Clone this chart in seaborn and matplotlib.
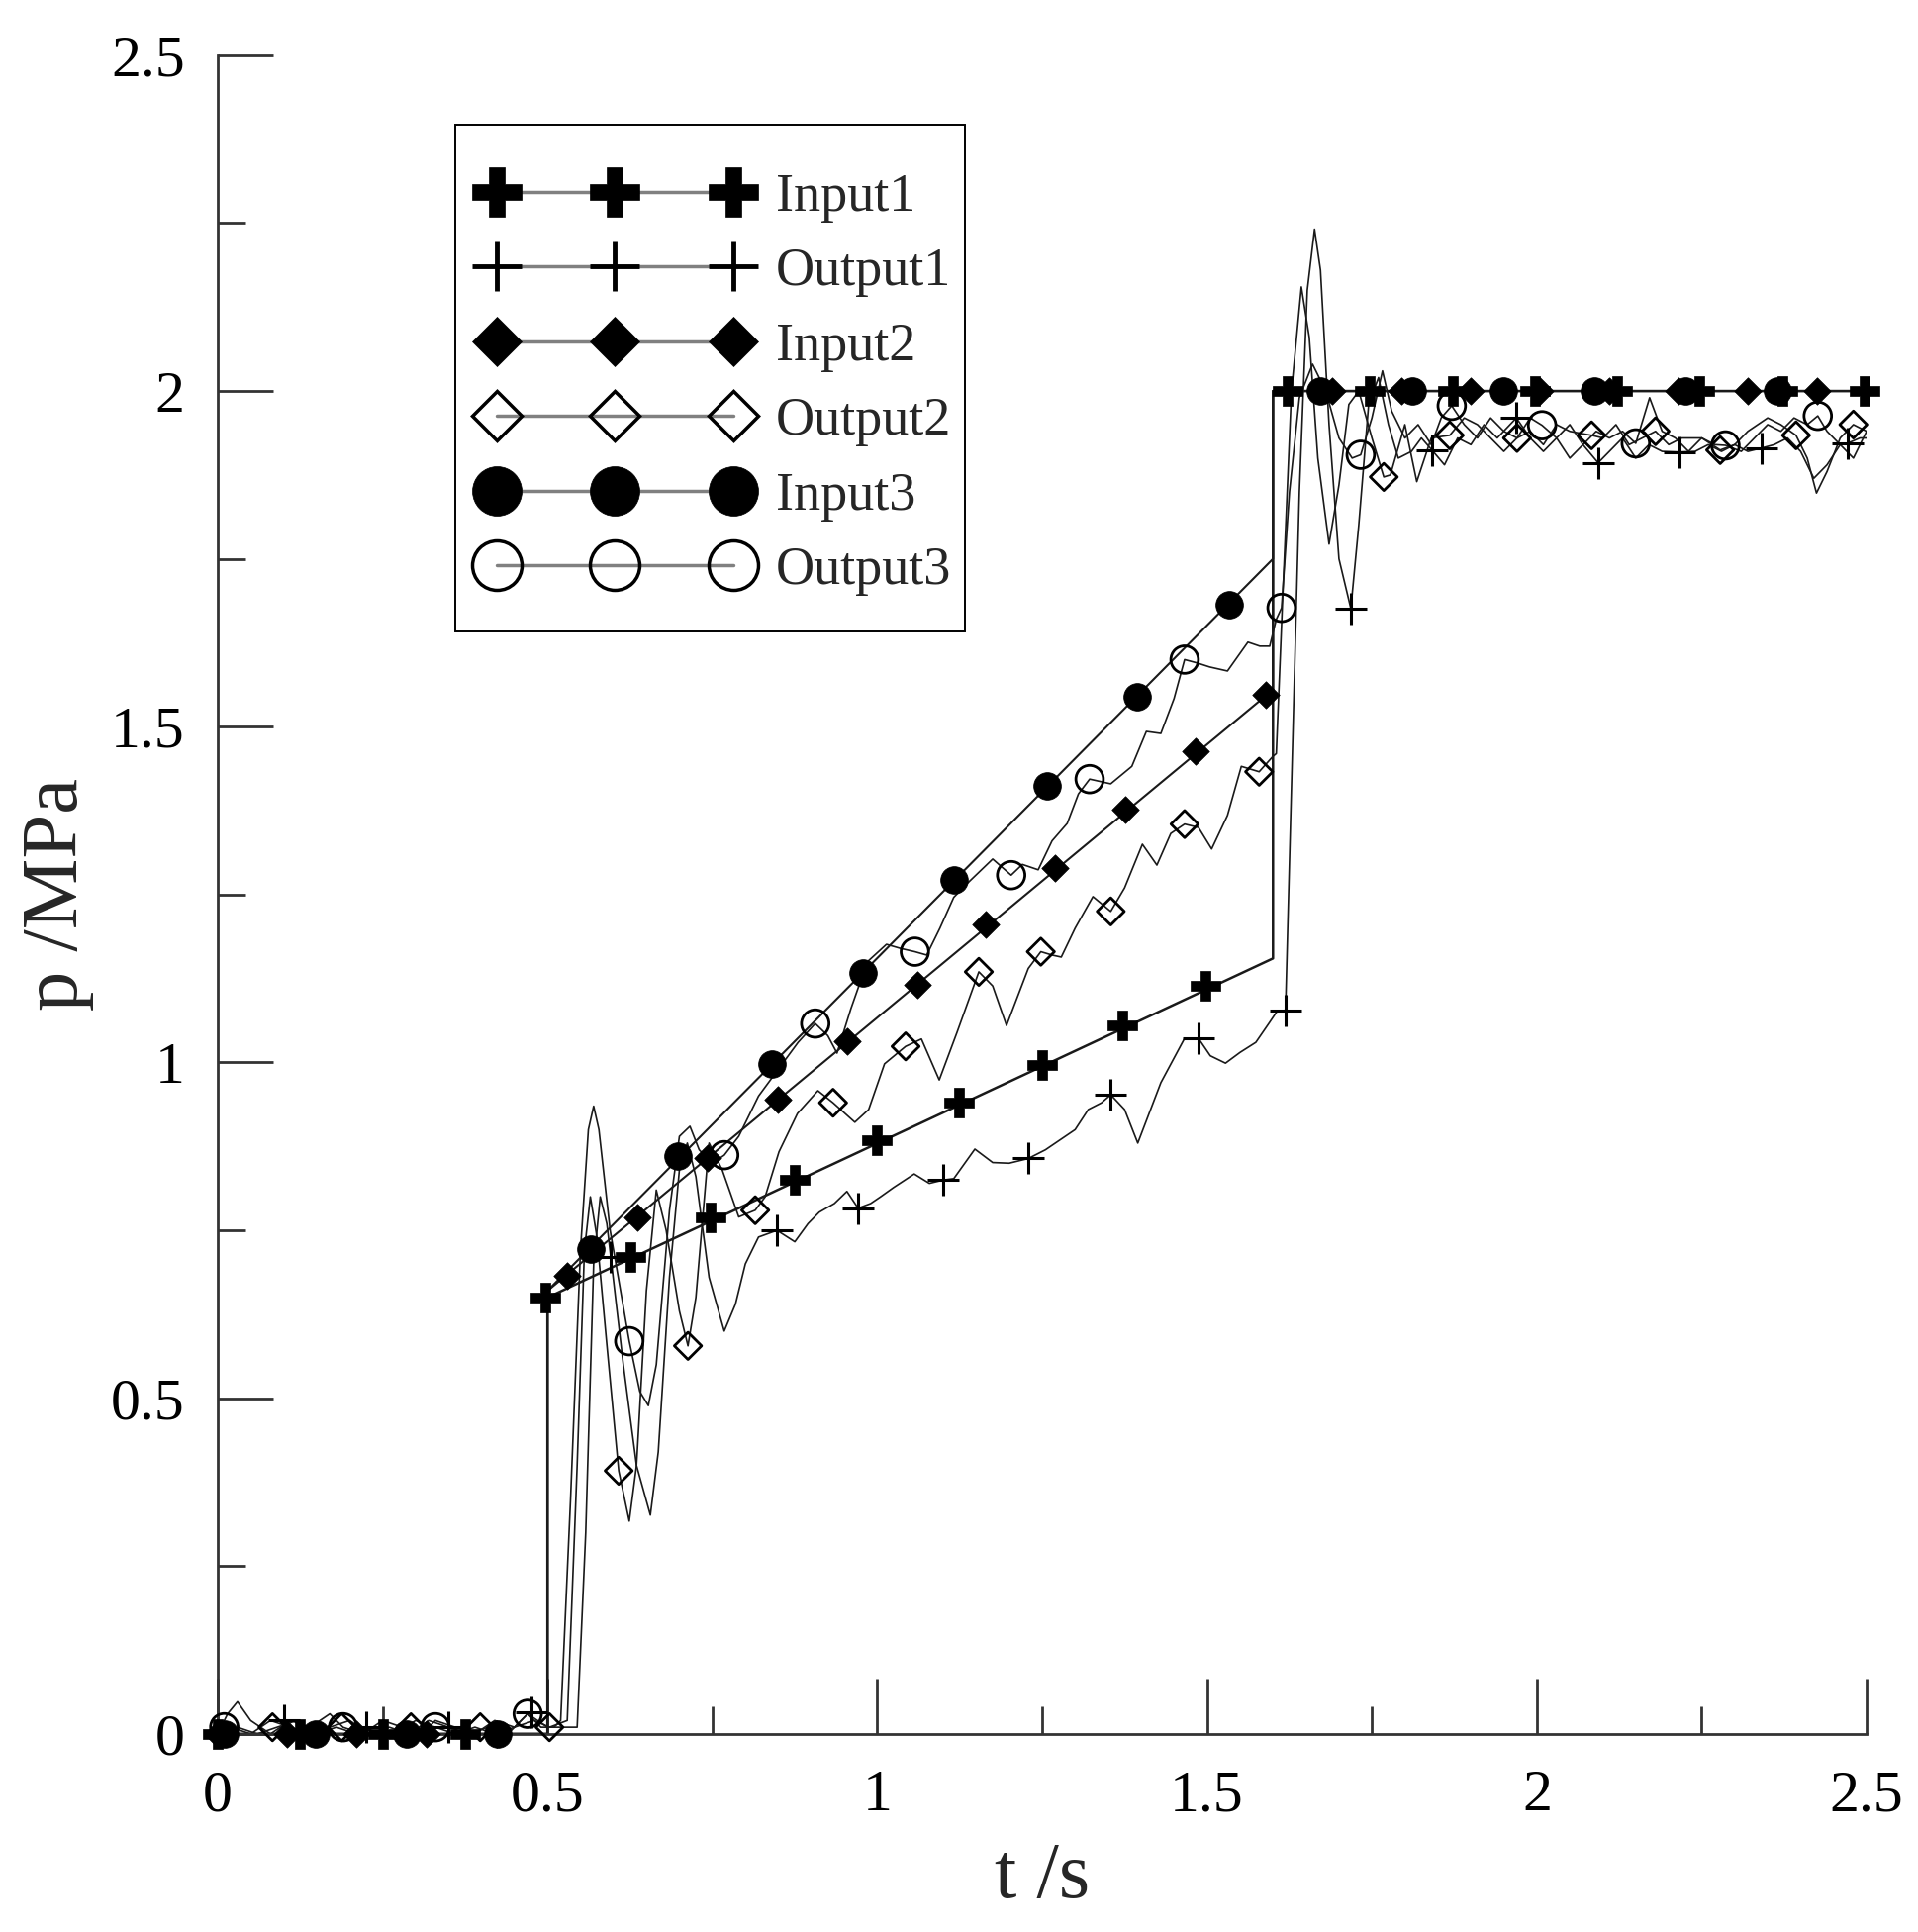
import matplotlib
matplotlib.use("Agg")
import matplotlib.pyplot as plt
from matplotlib.lines import Line2D
from matplotlib.patches import Rectangle
import seaborn as sns

# ---------------- data ----------------
# input signals (step at 0.5 s, ramp, step at 1.6 s)
input1_t = [0.0, 0.5, 0.5, 1.6, 1.6, 2.5]
input1_p = [0.0, 0.0, 0.65, 1.155, 2.0, 2.0]
input2_t = [0.0, 0.5, 0.5, 1.6, 1.6, 2.5]
input2_p = [0.0, 0.0, 0.66, 1.555, 2.0, 2.0]
input3_t = [0.0, 0.5, 0.5, 1.6, 1.6, 2.5]
input3_p = [0.0, 0.0, 0.66, 1.75, 2.0, 2.0]

# marker positions on the input curves
input1_mt = [0.0, 0.125, 0.25, 0.375, 0.497, 0.626, 0.748, 0.875, 1.0, 1.124, 1.25, 1.372, 1.497,
             1.622, 1.747, 1.872, 1.997, 2.122, 2.247, 2.372, 2.497]
input1_mp = [0.0, 0.0, 0.0, 0.0, 0.65, 0.71, 0.77, 0.825, 0.884, 0.94, 0.996, 1.055, 1.114,
             2.0, 2.0, 2.0, 2.0, 2.0, 2.0, 2.0, 2.0]
input2_mt = [0.0, 0.105, 0.21, 0.317, 0.423, 0.529, 0.637, 0.743, 0.849, 0.954, 1.061, 1.164, 1.27,
             1.376, 1.482, 1.589, 1.69, 1.795, 1.9, 2.005, 2.11, 2.215, 2.32, 2.425]
input2_mp = [0.0, 0.0, 0.0, 0.0, 0.0, 0.683, 0.77, 0.857, 0.944, 1.031, 1.116, 1.206, 1.289,
             1.377, 1.464, 1.548, 2.0, 2.0, 2.0, 2.0, 2.0, 2.0, 2.0, 2.0]
input3_mt = [0.01, 0.148, 0.287, 0.425, 0.566, 0.698, 0.84, 0.978, 1.117, 1.257, 1.394, 1.533,
             1.672, 1.811, 1.949, 2.088, 2.226, 2.365]
input3_mp = [0.0, 0.0, 0.0, 0.0, 0.722, 0.86, 0.998, 1.134, 1.272, 1.412, 1.545, 1.681,
             2.0, 2.0, 2.0, 2.0, 2.0, 2.0]

# measured output signals
output1_t = [0.0, 0.02, 0.05, 0.08, 0.11, 0.14, 0.17, 0.2, 0.23, 0.26, 0.29, 0.32, 0.35, 0.38,
             0.41, 0.44, 0.47, 0.5, 0.545, 0.558, 0.57, 0.58, 0.59, 0.596, 0.615, 0.635, 0.656,
             0.668, 0.685, 0.7, 0.712, 0.725, 0.745, 0.768, 0.785, 0.8, 0.82, 0.848, 0.875,
             0.895, 0.912, 0.935, 0.954, 0.971, 0.99, 1.005, 1.025, 1.056, 1.079, 1.1, 1.116,
             1.148, 1.175, 1.2, 1.229, 1.255, 1.282, 1.3, 1.32, 1.34, 1.354, 1.375, 1.395,
             1.43, 1.466, 1.487, 1.505, 1.528, 1.55, 1.574, 1.595, 1.606, 1.619, 1.625, 1.64,
             1.652, 1.663, 1.672, 1.685, 1.7, 1.718, 1.73, 1.745, 1.76, 1.775, 1.79, 1.81,
             1.825, 1.841, 1.86, 1.88, 1.9, 1.92, 1.94, 1.969, 1.99, 2.01, 2.03, 2.05, 2.07,
             2.093, 2.11, 2.13, 2.15, 2.17, 2.19, 2.216, 2.24, 2.26, 2.28, 2.3, 2.32, 2.341,
             2.36, 2.38, 2.4, 2.42, 2.44, 2.46, 2.471, 2.49, 2.5]
output1_p = [0.0, 0.01, 0.0, 0.02, 0.01, 0.0, 0.01, 0.02, 0.0, 0.01, 0.0, 0.02, 0.01, 0.0,
             0.01, 0.0, 0.03, 0.01, 0.01, 0.3, 0.7, 0.8, 0.76, 0.71, 0.55, 0.4, 0.326,
             0.42, 0.68, 0.84, 0.88, 0.83, 0.68, 0.6, 0.64, 0.7, 0.74, 0.75, 0.733,
             0.76, 0.777, 0.79, 0.808, 0.783, 0.79, 0.8, 0.814, 0.834, 0.82, 0.825, 0.827,
             0.871, 0.851, 0.85, 0.857, 0.87, 0.888, 0.9, 0.93, 0.94, 0.952, 0.93, 0.88,
             0.97, 1.036, 1.036, 1.01, 0.999, 1.015, 1.03, 1.06, 1.076, 1.078, 1.3, 1.85,
             2.15, 2.241, 2.18, 1.95, 1.75, 1.676, 1.8, 1.98, 2.02, 1.95, 1.9, 1.91,
             1.93, 1.912, 1.89, 1.93, 1.92, 1.95, 1.93, 1.96, 1.93, 1.91, 1.93, 1.9, 1.92,
             1.893, 1.91, 1.93, 1.9, 1.92, 1.91, 1.909, 1.91, 1.92, 1.91, 1.92, 1.91, 1.915,
             1.92, 1.93, 1.91, 1.87, 1.89, 1.92, 1.922, 1.93, 1.93]
output1_mt = [0.1, 0.225, 0.35, 0.476, 0.596, 0.848, 0.971, 1.1, 1.229, 1.354, 1.487, 1.619,
              1.718, 1.841, 1.969, 2.093, 2.216, 2.341, 2.471]
output1_mp = [0.02, 0.01, 0.01, 0.033, 0.71, 0.75, 0.783, 0.825, 0.857, 0.952, 1.036, 1.078,
              1.676, 1.912, 1.96, 1.893, 1.909, 1.915, 1.922]

output2_t = [0.0, 0.03, 0.06, 0.09, 0.12, 0.15, 0.18, 0.21, 0.24, 0.27, 0.3, 0.33, 0.36, 0.39,
             0.42, 0.45, 0.48, 0.503, 0.53, 0.545, 0.556, 0.565, 0.575, 0.59, 0.608, 0.624,
             0.635, 0.65, 0.665, 0.68, 0.7, 0.713, 0.725, 0.745, 0.765, 0.79, 0.815, 0.83,
             0.851, 0.879, 0.91, 0.933, 0.966, 0.987, 1.011, 1.043, 1.067, 1.094, 1.121,
             1.154, 1.175, 1.196, 1.229, 1.248, 1.265, 1.279, 1.3, 1.327, 1.354, 1.375, 1.402,
             1.424, 1.445, 1.466, 1.487, 1.507, 1.531, 1.552, 1.579, 1.6, 1.605, 1.615, 1.628,
             1.643, 1.655, 1.668, 1.685, 1.7, 1.715, 1.73, 1.75, 1.768, 1.778, 1.8, 1.818,
             1.84, 1.868, 1.89, 1.91, 1.93, 1.95, 1.97, 1.99, 2.01, 2.03, 2.05, 2.083, 2.1,
             2.12, 2.14, 2.16, 2.18, 2.2, 2.22, 2.25, 2.278, 2.3, 2.32, 2.35, 2.37, 2.393,
             2.41, 2.424, 2.44, 2.46, 2.48, 2.5]
output2_p = [0.0, 0.01, 0.0, 0.01, 0.02, 0.0, 0.01, 0.0, 0.01, 0.0, 0.02, 0.01, 0.0, 0.01,
             0.0, 0.01, 0.02, 0.01, 0.02, 0.4, 0.72, 0.8, 0.74, 0.58, 0.392, 0.317,
             0.4, 0.66, 0.81, 0.75, 0.63, 0.578, 0.65, 0.88, 0.84, 0.77, 0.78, 0.8,
             0.867, 0.924, 0.958, 0.94, 0.911, 0.93, 0.998, 1.024, 1.035, 0.974, 1.045,
             1.135, 1.114, 1.055, 1.14, 1.165, 1.16, 1.157, 1.2, 1.247, 1.225, 1.26, 1.325,
             1.294, 1.341, 1.355, 1.35, 1.318, 1.368, 1.441, 1.433, 1.456, 1.46, 1.7, 2.0,
             2.155, 2.08, 1.9, 1.772, 1.86, 1.98, 2.0, 1.93, 1.872, 1.875, 1.95, 1.865,
             1.93, 1.934, 1.96, 1.95, 1.93, 1.91, 1.93, 1.94, 1.92, 1.95, 1.94, 1.934, 1.93,
             1.95, 1.92, 1.93, 1.94, 1.92, 1.93, 1.93, 1.912, 1.92, 1.94, 1.96, 1.95, 1.934,
             1.9, 1.848, 1.88, 1.93, 1.95, 1.94]
output2_mt = [0.083, 0.188, 0.293, 0.398, 0.503, 0.608, 0.713, 0.815, 0.933, 1.043, 1.154,
              1.248, 1.354, 1.466, 1.579, 1.768, 1.868, 1.97, 2.083, 2.18, 2.278,
              2.393, 2.48]
output2_mp = [0.01, 0.01, 0.01, 0.01, 0.01, 0.392, 0.578, 0.78, 0.94, 1.024, 1.135,
              1.165, 1.225, 1.355, 1.433, 1.872, 1.934, 1.93, 1.934, 1.94, 1.912,
              1.934, 1.95]

output3_t = [0.0, 0.015, 0.03, 0.05, 0.08, 0.11, 0.14, 0.17, 0.19, 0.22, 0.25, 0.28, 0.31,
             0.33, 0.36, 0.39, 0.42, 0.45, 0.47, 0.49, 0.51, 0.52, 0.535, 0.55, 0.562, 0.57,
             0.578, 0.595, 0.624, 0.64, 0.653, 0.665, 0.685, 0.7, 0.716, 0.73, 0.75, 0.768,
             0.79, 0.82, 0.85, 0.88, 0.906, 0.925, 0.939, 0.96, 0.985, 1.014, 1.035, 1.057,
             1.075, 1.095, 1.116, 1.14, 1.175, 1.203, 1.22, 1.244, 1.265, 1.288, 1.305, 1.322,
             1.354, 1.386, 1.408, 1.43, 1.45, 1.466, 1.485, 1.504, 1.531, 1.562, 1.58, 1.595,
             1.605, 1.613, 1.625, 1.64, 1.66, 1.68, 1.7, 1.72, 1.733, 1.75, 1.766, 1.78, 1.8,
             1.82, 1.84, 1.855, 1.871, 1.89, 1.91, 1.93, 1.95, 1.97, 1.99, 2.008, 2.03, 2.05,
             2.07, 2.09, 2.11, 2.13, 2.15, 2.171, 2.19, 2.21, 2.23, 2.25, 2.27, 2.286, 2.31,
             2.33, 2.35, 2.37, 2.39, 2.41, 2.426, 2.44, 2.46, 2.48, 2.5]
output3_p = [0.0, 0.03, 0.048, 0.02, 0.0, 0.02, 0.01, 0.03, 0.01, 0.0, 0.02, 0.01, 0.0,
             0.02, 0.01, 0.0, 0.02, 0.01, 0.03, 0.01, 0.01, 0.02, 0.35, 0.72, 0.9, 0.935,
             0.9, 0.75, 0.585, 0.51, 0.489, 0.55, 0.78, 0.89, 0.905, 0.87, 0.85, 0.862,
             0.89, 0.95, 0.99, 1.03, 1.058, 1.04, 1.014, 1.08, 1.15, 1.176, 1.17, 1.165,
             1.16, 1.2, 1.246, 1.27, 1.303, 1.279, 1.295, 1.287, 1.33, 1.356, 1.4, 1.422,
             1.415, 1.441, 1.493, 1.49, 1.542, 1.6, 1.595, 1.589, 1.583, 1.626, 1.62, 1.62,
             1.66, 1.677, 1.85, 1.99, 2.04, 2.0, 1.93, 1.9, 1.905, 1.96, 2.03, 1.97, 1.93,
             1.95, 1.92, 1.96, 1.978, 1.95, 1.93, 1.96, 1.94, 1.93, 1.96, 1.949, 1.93, 1.95,
             1.92, 1.94, 1.93, 1.94, 1.922, 1.99, 1.94, 1.93, 1.91, 1.93, 1.92, 1.919, 1.91,
             1.93, 1.95, 1.94, 1.96, 1.95, 1.963, 1.94, 1.92, 1.9, 1.94]
output3_mt = [0.01, 0.19, 0.33, 0.47, 0.624, 0.768, 0.906, 1.057, 1.203, 1.322, 1.466, 1.613,
              1.733, 1.871, 2.008, 2.15, 2.286, 2.426]
output3_mp = [0.01, 0.01, 0.01, 0.03, 0.585, 0.862, 1.058, 1.165, 1.279, 1.422, 1.6, 1.677,
              1.905, 1.978, 1.949, 1.922, 1.919, 1.963]

tick_values = [0, 0.5, 1, 1.5, 2, 2.5]
tick_labels = ["0", "0.5", "1", "1.5", "2", "2.5"]
minor_ticks = [0.25, 0.75, 1.25, 1.75, 2.25]
legend_labels = ["Input1", "Output1", "Input2", "Output2", "Input3", "Output3"]

# ---------------- plotting ----------------
sns.set_style("ticks")
plt.rcParams["font.family"] = ["Liberation Serif", "DejaVu Serif"]

fig = plt.figure(figsize=(19.38, 19.52), dpi=100)
ax = fig.add_axes([0.1135, 0.1025, 0.8597, 0.8689])

line_col = "#1a1a1a"
for t, p, lw in [(input1_t, input1_p, 1.8), (input2_t, input2_p, 1.5), (input3_t, input3_p, 1.5),
                 (output1_t, output1_p, 1.2), (output2_t, output2_p, 1.2), (output3_t, output3_p, 1.2)]:
    sns.lineplot(x=t, y=p, ax=ax, color=line_col, linewidth=lw, estimator=None, sort=False)

# markers
sns.scatterplot(x=input1_mt, y=input1_mp, ax=ax, marker="P", s=21 ** 2, color="black",
                edgecolor="black", linewidth=0.5, clip_on=False, zorder=5)
sns.scatterplot(x=output1_mt, y=output1_mp, ax=ax, marker="+", s=23 ** 2, color="black",
                linewidth=2.2, clip_on=False, zorder=5)
sns.scatterplot(x=input2_mt, y=input2_mp, ax=ax, marker="D", s=14 ** 2, color="black",
                edgecolor="black", linewidth=0.5, clip_on=False, zorder=5)
sns.scatterplot(x=output2_mt, y=output2_mp, ax=ax, marker="D", s=14 ** 2, facecolors="none",
                edgecolor="black", linewidth=2.0, clip_on=False, zorder=5)
sns.scatterplot(x=input3_mt, y=input3_mp, ax=ax, marker="o", s=20 ** 2, color="black",
                edgecolor="black", linewidth=0.5, clip_on=False, zorder=5)
sns.scatterplot(x=output3_mt, y=output3_mp, ax=ax, marker="o", s=20 ** 2, facecolors="none",
                edgecolor="black", linewidth=2.0, clip_on=False, zorder=5)

# axes styling
ax.set_xlim(0, 2.5)
ax.set_ylim(0, 2.5)
ax.set_xticks(tick_values)
ax.set_xticklabels(tick_labels)
ax.set_yticks(tick_values)
ax.set_yticklabels(tick_labels)
ax.set_xticks(minor_ticks, minor=True)
ax.set_yticks(minor_ticks, minor=True)
ax.tick_params(which="both", bottom=True, left=True, top=False, right=False)
ax.tick_params(which="major", direction="in", length=40, width=2, color="#333333",
               labelsize=43, labelcolor="black")
ax.tick_params(which="minor", direction="in", length=20, width=2, color="#333333")
ax.tick_params(axis="x", which="major", pad=26)
ax.tick_params(axis="y", which="major", pad=24)
sns.despine(ax=ax, top=True, right=True)
for side in ["left", "bottom"]:
    ax.spines[side].set_linewidth(2)
    ax.spines[side].set_color("#333333")

ax.set_xlabel("t /s", fontsize=58, labelpad=14)
ax.set_ylabel("p /MPa", fontsize=58, labelpad=12)

# legend
grey = "#808080"
handles = [
    Line2D([], [], color=grey, lw=2.5, marker="P", markersize=36, markerfacecolor="black",
           markeredgecolor="black", markeredgewidth=0.5),
    Line2D([], [], color=grey, lw=2.5, marker="+", markersize=36, markeredgecolor="black",
           markeredgewidth=3.5),
    Line2D([], [], color=grey, lw=2.5, marker="D", markersize=25, markerfacecolor="black",
           markeredgecolor="black", markeredgewidth=0.5),
    Line2D([], [], color=grey, lw=2.5, marker="D", markersize=25, markerfacecolor="none",
           markeredgecolor="black", markeredgewidth=2.5),
    Line2D([], [], color=grey, lw=2.5, marker="o", markersize=36, markerfacecolor="black",
           markeredgecolor="black", markeredgewidth=0.5),
    Line2D([], [], color=grey, lw=2.5, marker="o", markersize=36, markerfacecolor="none",
           markeredgecolor="black", markeredgewidth=2.5),
]
# legend frame drawn separately so its box matches the original
ax.add_patch(Rectangle((0.2374, 0.6732), 0.2657, 0.2623, transform=fig.transFigure,
                       facecolor="white", edgecolor="black", linewidth=1.4,
                       clip_on=False, zorder=4.5))
ax.legend(handles, legend_labels, loc="upper left", bbox_to_anchor=(0.2508, 0.9106),
          bbox_transform=fig.transFigure, fontsize=39, numpoints=3, handlelength=5.0,
          handletextpad=0.5, labelspacing=0.46, borderpad=0.0, borderaxespad=0,
          frameon=False)

fig.savefig("out.png", dpi=100)
